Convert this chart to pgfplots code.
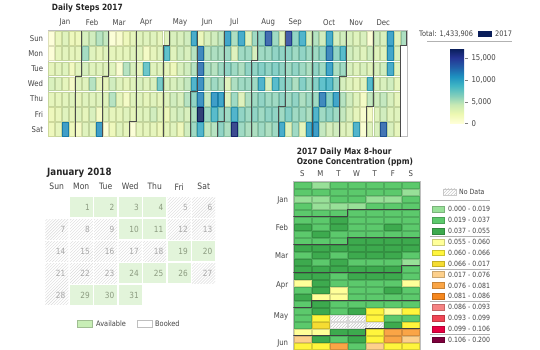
\documentclass[border=0pt]{standalone}
\usepackage{pgfplots}
\pgfplotsset{compat=1.18}
\usepackage{pgfplotstable}
\usepackage{fontspec}
\setmainfont{DejaVu Sans}[FakeStretch=0.87]
\usetikzlibrary{patterns}

\definecolor{txt}{RGB}{68,68,68}
\definecolor{navy}{RGB}{10,30,90}
\definecolor{avail}{RGB}{226,244,218}
\definecolor{availsw}{RGB}{200,238,182}
\definecolor{avtxt}{RGB}{140,155,128}
\definecolor{bktxt}{RGB}{168,168,168}
\definecolor{oza}{RGB}{152,224,152}
\definecolor{ozb}{RGB}{92,201,108}
\definecolor{ozc}{RGB}{61,170,78}
\definecolor{ozd}{RGB}{255,255,153}
\definecolor{oze}{RGB}{255,245,60}
\definecolor{ozf}{RGB}{245,220,50}
\definecolor{ozg}{RGB}{253,208,140}
\definecolor{ozh}{RGB}{250,165,70}
\definecolor{ozi}{RGB}{245,135,30}
\definecolor{ozj}{RGB}{245,130,130}
\definecolor{ozk}{RGB}{240,70,85}
\definecolor{ozl}{RGB}{230,0,65}
\definecolor{ozm}{RGB}{125,0,60}

\pgfdeclareplotmark{stepcell}{%
  \pgfpathrectangle{\pgfpoint{-2.85bp}{-6.9bp}}{\pgfpoint{5.7bp}{13.8bp}}%
  \pgfusepathqfillstroke}
\pgfdeclareplotmark{ozcell}{%
  \pgfpathrectangle{\pgfpoint{-8.4bp}{-2.9bp}}{\pgfpoint{16.8bp}{5.8bp}}%
  \pgfusepathqfillstroke}
\pgfdeclareplotmark{ozhatch}{%
  \pgfsetfillcolor{white}%
  \pgfpathrectangle{\pgfpoint{-8.4bp}{-2.9bp}}{\pgfpoint{16.8bp}{5.8bp}}%
  \pgfusepathqfill
  \pgfsetfillpattern{north east lines}{black!25}%
  \pgfpathrectangle{\pgfpoint{-8.4bp}{-2.9bp}}{\pgfpoint{16.8bp}{5.8bp}}%
  \pgfusepathqfill
  \pgfsetstrokecolor{black!15}%
  \pgfpathrectangle{\pgfpoint{-8.4bp}{-2.9bp}}{\pgfpoint{16.8bp}{5.8bp}}%
  \pgfusepathqstroke}
\pgfdeclareplotmark{calcell}{%
  \pgfpathrectangle{\pgfpoint{-11.5bp}{-10bp}}{\pgfpoint{23bp}{20bp}}%
  \pgfusepathqfill}
\pgfdeclareplotmark{calhatch}{%
  \pgfsetfillpattern{north east lines}{black!14}%
  \pgfpathrectangle{\pgfpoint{-11.5bp}{-10bp}}{\pgfpoint{23bp}{20bp}}%
  \pgfusepathqfill}

% daily steps 2017: week column w, day rows d0 (Sun) ... d6 (Sat)
\pgfplotstableread{
w d0 d1 d2 d3 d4 d5 d6
0 300 400 2800 3600 2800 2300 2300
1 2600 2800 3000 3300 2800 2600 2800
2 3200 3000 3200 2800 3000 3200 11000
3 2300 2800 1800 1400 3200 2800 2300
4 2300 2800 3000 3200 2800 3200 1500
5 3800 5800 3800 3200 3200 2800 3200
6 4200 3200 3200 5200 3200 3700 3200
7 5200 2800 3200 2800 3200 1500 11000
8 4700 3200 3200 2800 3200 3200 500
9 500 2800 3200 4200 5200 2800 2300
10 1000 2800 800 3200 2800 2800 3200
11 2300 2800 5200 2800 1500 3200 2800
12 2800 3200 3700 3200 3200 2800 500
13 3200 3200 2800 3700 3200 3200 2800
14 3200 1500 8000 3200 2800 3200 2800
15 3200 2800 3200 3700 3200 4200 2800
16 2800 3200 3200 7500 2800 3200 2300
17 3200 8500 2800 3700 3200 2300 2800
18 3700 3200 2300 3700 4200 3700 3200
19 3700 4200 3700 4200 3700 4200 2300
20 4200 3700 4200 4700 5200 3700 4200
21 10000 5200 5200 9500 6500 5500 6000
22 2500 12000 12500 11500 11500 17000 9500
23 3700 5200 5500 5200 4700 6000 4700
24 4200 5500 5200 6000 11000 9000 5200
25 4700 5500 6000 5500 10500 6500 6500
26 10500 6000 6500 3300 3300 6000 5500
27 5500 3300 6000 5500 6000 9500 16000
28 10000 6000 5500 6000 3300 6500 6000
29 3300 6000 6500 6000 5500 6000 5500
30 6000 3800 6500 6000 6000 6500 5500
31 6500 6000 7000 9500 6500 6000 6000
32 13500 6000 6500 3800 6000 6500 5500
33 6000 6500 7000 9000 6000 6500 6000
34 3300 6500 6500 7000 6500 6000 10000
35 14500 6500 6000 6500 6000 7000 3300
36 6500 6000 6500 5500 6500 6000 6000
37 9500 6500 6000 7000 5500 6000 2800
38 3800 6000 5500 6000 6000 5500 10000
39 5200 6000 6500 7000 6000 9500 11000
40 4200 6500 6000 8500 12000 6000 4700
41 10000 12000 10500 9000 7000 6500 3800
42 3800 6500 5500 6500 10500 6000 4200
43 4200 9000 6000 3800 5200 4700 3300
44 3700 4200 3700 3200 4200 3700 3200
45 3200 3700 3200 2800 3200 2800 9500
46 3700 3200 3700 3200 1500 1000 800
47 500 4200 3200 9000 4700 1500 3200
48 4200 3200 3700 3200 4200 3200 3700
49 3700 3200 4200 3700 4700 4200 13000
50 10500 10500 10000 4200 3700 3200 3700
51 3200 3700 3200 2800 2800 3200 2800
}\steps

% ozone: row position y (week), columns d0 (Sun) ... d6 (Sat), class of value
\pgfplotstableread{
y d0 d1 d2 d3 d4 d5 d6
0 b a b b b b b
-1 b b b b b b a
-2 a a b b a a b
-3 b a a a b b b
-4 b b b b b b b
-5 b b c b b b b
-6 c b c b b c b
-7 b c b b b b b
-8 b b b c c c c
-9 c c c c c c c
-10 b c b c c c b
-11 c b c b b b a
-12 c c c c c c b
-13 c c b c c c b
-14 d c b b b b d
-15 b c d b b c b
-16 c d d b b b b
-17 b c b b b b b
-18 b c b c e d e
-19 b e n n e b b
-20 b f n n n c e
-21 d d c c e h h
-22 g c b c e h g
-23 e e h b g e e
}\ozone

\begin{document}
\begin{tikzpicture}
\path[use as bounding box, fill=white] (0,0) rectangle (540bp,350bp);

% ---------------- Daily steps ----------------
\node[anchor=west, inner sep=0pt, text=black!85, font=\fontsize{8.6}{10}\selectfont\bfseries] at (51.7bp,342.2bp) {Daily Steps 2017};

\begin{axis}[
  at={(48bp,213.3bp)}, anchor=south west, scale only axis,
  width=359bp, height=106bp,
  clip mode=individual,
  xmin=-0.5, xmax=52.5, ymin=-6.5, ymax=0.5,
  xtick={2,6,10,14,19,23,27,32,36,41,45,49},
  xticklabels={Jan,Feb,Mar,Apr,May,Jun,Jul,Aug,Sep,Oct,Nov,Dec},
  xticklabel pos=upper,
  ytick={-6,-5,-4,-3,-2,-1,0},
  yticklabels={Sat,Fri,Thu,Wed,Tue,Mon,Sun},
  major tick length=0pt,
  xticklabel style={anchor=center, inner sep=0pt, yshift=8.4bp},
  yticklabel style={anchor=east, inner sep=0pt, xshift=-4.7bp},
  tick label style={font=\fontsize{8}{9}\selectfont, text=txt},
  axis line style={black!25},
  colormap={ylgnbu}{rgb255(0cm)=(255,255,217); rgb255(1cm)=(237,248,177); rgb255(2cm)=(199,233,180); rgb255(3cm)=(127,205,187); rgb255(4cm)=(65,182,196); rgb255(5cm)=(29,145,192); rgb255(6cm)=(34,94,168); rgb255(7cm)=(37,52,148); rgb255(8cm)=(8,29,88)},
  point meta min=0, point meta max=17300,
  colorbar,
  colorbar style={
    at={(parent axis.south east)}, anchor=south west,
    xshift=34.5bp, yshift=13.4bp,
    scale only axis, width=15bp, height=75bp,
    ytick={0,5000,10000,15000},
    yticklabel pos=right, ytick pos=right,
    axis line style={draw=none},
    major tick length=3bp, tick align=outside, tick style={black!50},
    yticklabel style={font=\fontsize{8}{9}\selectfont, text=txt},
    scaled y ticks=false,
    /pgf/number format/1000 sep={,},
    /pgf/number format/assume math mode=true,
  },
]
\pgfplotsinvokeforeach{0,...,6}{
  \addplot[scatter, only marks, mark=stepcell, line width=0.3bp, point meta=explicit,
    scatter/use mapped color={draw=mapped color!88!black, fill=mapped color!85!white}]
    table[x=w, y expr=-#1, meta=d#1] {\steps};
}
\addplot[scatter, only marks, mark=stepcell, line width=0.3bp, point meta=explicit,
    scatter/use mapped color={draw=mapped color!88!black, fill=mapped color!85!white}]
    coordinates {(52,0) [5500]};
% month boundaries
\addplot[black!70, line width=1bp] coordinates {(4.5,0.5)(4.5,-2.5)(3.5,-2.5)(3.5,-6.5)};
\addplot[black!70, line width=1bp] coordinates {(8.5,0.5)(8.5,-2.5)(7.5,-2.5)(7.5,-6.5)};
\addplot[black!70, line width=1bp] coordinates {(12.5,0.5)(12.5,-5.5)(11.5,-5.5)(11.5,-6.5)};
\addplot[black!70, line width=1bp] coordinates {(17.5,0.5)(17.5,-0.5)(16.5,-0.5)(16.5,-6.5)};
\addplot[black!70, line width=1bp] coordinates {(21.5,0.5)(21.5,-3.5)(20.5,-3.5)(20.5,-6.5)};
\addplot[black!70, line width=1bp] coordinates {(25.5,0.5)(25.5,-5.5)(24.5,-5.5)(24.5,-6.5)};
\addplot[black!70, line width=1bp] coordinates {(30.5,0.5)(30.5,-1.5)(29.5,-1.5)(29.5,-6.5)};
\addplot[black!70, line width=1bp] coordinates {(34.5,0.5)(34.5,-4.5)(33.5,-4.5)(33.5,-6.5)};
\addplot[black!70, line width=1bp] coordinates {(38.5,0.5)(38.5,-6.5)};
\addplot[black!70, line width=1bp] coordinates {(43.5,0.5)(43.5,-2.5)(42.5,-2.5)(42.5,-6.5)};
\addplot[black!70, line width=1bp] coordinates {(47.5,0.5)(47.5,-4.5)(46.5,-4.5)(46.5,-6.5)};
\addplot[black!70, line width=1bp] coordinates {(52.5,0.5)(52.5,-0.5)(51.5,-0.5)(51.5,-6.5)};
\end{axis}

% total legend
\node[anchor=west, inner sep=0pt, text=txt, font=\fontsize{7.6}{9}\selectfont] at (419bp,316.3bp) {Total: 1,433,906};
\fill[navy] (478bp,313.3bp) rectangle (492bp,319.3bp);
\node[anchor=west, inner sep=0pt, text=txt, font=\fontsize{7.6}{9}\selectfont] at (495bp,316.3bp) {2017};
\draw[black!30, line width=0.8bp] (427bp,308.3bp) -- (512bp,308.3bp);

% ---------------- January 2018 ----------------
\node[anchor=west, inner sep=0pt, text=black!85, font=\fontsize{10}{12}\selectfont\bfseries] at (47bp,177.5bp) {January 2018};

\begin{axis}[
  at={(44.5bp,44bp)}, anchor=south west, scale only axis,
  width=171.5bp, height=110bp,
  xmin=-0.5, xmax=6.5, ymin=-4.5, ymax=0.5,
  xtick={0,...,6}, xticklabels={Sun,Mon,Tue,Wed,Thu,Fri,Sat},
  xticklabel pos=upper, ytick=\empty,
  major tick length=0pt,
  xticklabel style={anchor=center, inner sep=0pt, yshift=9.3bp},
  tick label style={font=\fontsize{8.8}{10}\selectfont, text=txt},
  axis line style={draw=none},
  clip=false,
]
\addplot[only marks, mark=calhatch, nodes near coords, point meta=explicit symbolic,
  nodes near coords style={anchor=east, inner sep=0pt, xshift=8.8bp, yshift=0pt, font=\fontsize{8.5}{10}\selectfont, text=bktxt}]
  coordinates {(5,0)[5] (6,0)[6] (0,-1)[7] (1,-1)[8] (2,-1)[9] (5,-1)[12] (6,-1)[13]
    (0,-2)[14] (1,-2)[15] (2,-2)[16] (3,-2)[17] (4,-2)[18]
    (0,-3)[21] (1,-3)[22] (2,-3)[23] (6,-3)[27] (0,-4)[28]};
\addplot[only marks, mark=calcell, mark options={fill=avail}, nodes near coords, point meta=explicit symbolic,
  nodes near coords style={anchor=east, inner sep=0pt, xshift=8.8bp, yshift=0pt, font=\fontsize{8.5}{10}\selectfont, text=avtxt}]
  coordinates {(1,0)[1] (2,0)[2] (3,0)[3] (4,0)[4] (3,-1)[10] (4,-1)[11]
    (5,-2)[19] (6,-2)[20] (3,-3)[24] (4,-3)[25] (5,-3)[26]
    (1,-4)[29] (2,-4)[30] (3,-4)[31]};
\end{axis}

\fill[availsw, draw=availsw!80!black, line width=0.4bp] (77bp,23bp) rectangle (92bp,30bp);
\node[anchor=west, inner sep=0pt, text=txt, font=\fontsize{7.6}{9}\selectfont] at (96bp,26.5bp) {Available};
\fill[white, draw=black!25, line width=0.5bp] (137bp,23bp) rectangle (152bp,30bp);
\node[anchor=west, inner sep=0pt, text=txt, font=\fontsize{7.6}{9}\selectfont] at (155bp,26.5bp) {Booked};

% ---------------- Ozone ----------------
\node[anchor=west, inner sep=0pt, text=black!85, font=\fontsize{8.6}{10}\selectfont\bfseries] at (296.7bp,198.3bp) {2017 Daily Max 8-hour};
\node[anchor=west, inner sep=0pt, text=black!85, font=\fontsize{8.6}{10}\selectfont\bfseries] at (296.7bp,188.3bp) {Ozone Concentration (ppm)};

\begin{axis}[
  at={(293.3bp,0bp)}, anchor=south west, scale only axis,
  width=126.7bp, height=168.3bp,
  clip mode=individual,
  xmin=-0.5, xmax=6.5, ymin=-23.54, ymax=0.5,
  xtick={0,...,6}, xticklabels={S,M,T,W,T,F,S},
  xticklabel pos=upper,
  ytick={-22.6,-18.8,-14.3,-10.1,-6,-2.2},
  yticklabels={Jun,May,Apr,Mar,Feb,Jan},
  major tick length=0pt,
  xticklabel style={anchor=center, inner sep=0pt, yshift=8.4bp},
  yticklabel style={anchor=east, inner sep=0pt, xshift=-5bp},
  tick label style={font=\fontsize{8}{9}\selectfont, text=txt},
  axis line style={black!25},
]
\pgfplotsinvokeforeach{0,...,6}{
  \addplot[scatter, only marks, mark=ozcell, line width=0.4bp,
    scatter src=explicit symbolic,
    scatter/classes={
      a={fill=oza, draw=oza!85!black}, b={fill=ozb, draw=ozb!85!black},
      c={fill=ozc, draw=ozc!85!black}, d={fill=ozd, draw=ozd!85!black},
      e={fill=oze, draw=oze!85!black}, f={fill=ozf, draw=ozf!85!black},
      g={fill=ozg, draw=ozg!85!black}, h={fill=ozh, draw=ozh!85!black},
      n={mark=ozhatch}}]
    table[x expr=#1, y=y, meta=d#1] {\ozone};
}
\addplot[black!75, line width=1bp] coordinates {(-0.5,-4.5)(2.5,-4.5)(2.5,-3.5)(6.5,-3.5)};
\addplot[black!75, line width=1bp] coordinates {(-0.5,-8.5)(2.5,-8.5)(2.5,-7.5)(6.5,-7.5)};
\addplot[black!75, line width=1bp] coordinates {(-0.5,-12.5)(5.5,-12.5)(5.5,-11.5)(6.5,-11.5)};
\addplot[black!75, line width=1bp] coordinates {(-0.5,-17.5)(0.5,-17.5)(0.5,-16.5)(6.5,-16.5)};
\addplot[black!75, line width=1bp] coordinates {(-0.5,-21.5)(3.5,-21.5)(3.5,-20.5)(6.5,-20.5)};
\end{axis}

% ozone legend
\fill[white, draw=black!20, line width=0.4bp] (443bp,155bp) rectangle (456bp,161bp);
\fill[pattern=north east lines, pattern color=black!25] (443bp,155bp) rectangle (456bp,161bp);
\node[anchor=west, inner sep=0pt, text=txt, font=\fontsize{7.2}{8}\selectfont] at (459bp,158bp) {No Data};
\draw[black!30, line width=0.7bp] (430bp,149.3bp) -- (490bp,149.3bp);
\foreach \c/\l [count=\i from 0] in {oza/{0.000 - 0.019}, ozb/{0.019 - 0.037}, ozc/{0.037 - 0.055},
  ozd/{0.055 - 0.060}, oze/{0.060 - 0.066}, ozf/{0.066 - 0.017},
  ozg/{0.017 - 0.076}, ozh/{0.076 - 0.081}, ozi/{0.081 - 0.086},
  ozj/{0.086 - 0.093}, ozk/{0.093 - 0.099}, ozl/{0.099 - 0.106}, ozm/{0.106 - 0.200}} {
  \pgfmathsetmacro\yy{350-209.3-10.87*\i}
  \pgfmathsetmacro\ylo{\yy-2.9}
  \pgfmathsetmacro\yhi{\yy+2.9}
  \fill[\c, draw=\c!80!black, line width=0.4bp] (432bp,\ylo bp) rectangle (444bp,\yhi bp);
  \node[anchor=west, inner sep=0pt, text=txt, font=\fontsize{7.2}{8}\selectfont] at (448bp,\yy bp) {\l};
}
\foreach \py in {236.6,269.2,301.8,334.4} {
  \pgfmathsetmacro\yy{350-\py}
  \draw[black!30, line width=0.7bp] (430bp,\yy bp) -- (490bp,\yy bp);
}
\end{tikzpicture}
\end{document}
